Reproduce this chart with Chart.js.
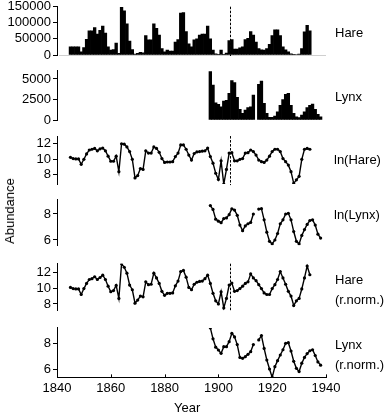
<!DOCTYPE html>
<html>
<head>
<meta charset="utf-8">
<script src="https://cdn.jsdelivr.net/npm/chart.js@4.4.0/dist/chart.umd.min.js"></script>
<style>
    body { margin: 0; width: 386px; height: 416px; background: #fff; position: relative; overflow: hidden;
           font-family: "Liberation Sans", Arial, sans-serif; color: #000; }
    canvas { position: absolute; left: 0; }
    .lbl { position: absolute; font-size: 13px; line-height: 16px; white-space: nowrap; }
</style>
</head>
<body>
<canvas id="p1"></canvas>
<canvas id="p2"></canvas>
<canvas id="p3"></canvas>
<canvas id="p4"></canvas>
<canvas id="p5"></canvas>
<canvas id="p6"></canvas>

<div class="lbl" style="left:335px; top:25px;">Hare</div>
<div class="lbl" style="left:335px; top:89px;">Lynx</div>
<div class="lbl" style="left:334px; top:152px;">ln(Hare)</div>
<div class="lbl" style="left:334px; top:207px;">ln(Lynx)</div>
<div class="lbl" style="left:335px; top:272px;">Hare</div>
<div class="lbl" style="left:335px; top:292px;">(r.norm.)</div>
<div class="lbl" style="left:335px; top:337px;">Lynx</div>
<div class="lbl" style="left:335px; top:357px;">(r.norm.)</div>
<div class="lbl" style="left:174px; top:400px;">Year</div>
<div class="lbl" style="left:10px; top:211px; transform: translate(-50%, -50%) rotate(-90deg);">Abundance</div>

<script>
// --- data ---
const hareFirstYear = 1845;
const hare = [
    25000, 25000, 25000, 25000, 10000, 23000, 49000, 75000, 75000, 85000,
    65000, 77000, 90000, 68000, 25000, 15000, 17000, 37000, 5000, 148000,
    137000, 97000, 43000, 17000, 3000, 5000, 8000, 7000, 60000, 47000,
    47000, 97000, 83000, 62000, 20000, 10000, 15000, 12000, 12000, 40000,
    48000, 130000, 132000, 73000, 35000, 25000, 47000, 50000, 62000, 65000,
    65000, 90000, 50000, 15000, 4000, 2000, 15000, 1000, 6000, 45000,
    48000, 18000, 18000, 22000, 25000, 48000, 52000, 73000, 62000, 40000,
    20000, 16000, 15000, 20000, 33000, 60000, 78000, 78000, 60000, 25000,
    16000, 10000, 4000, 1000, 1500, 2500, 20000, 72000, 92000, 75000
];
const lnHare = [
    10.25, 10.1, 10.05, 10.05, 9.35, 10.0, 10.7, 11.2, 11.3, 11.4,
    11.1, 11.35, 11.45, 11.1, 10.4, 9.75, 9.75, 10.4, 8.4, 12.0,
    11.95, 11.6, 11.0, 10.0, 7.6, 7.9, 8.8, 8.7, 11.1, 10.8,
    10.8, 11.6, 11.4, 10.9, 10.1, 9.6, 9.65, 9.65, 9.7, 10.35,
    10.8, 11.85, 11.85, 11.3, 10.55, 9.9, 10.75, 10.95, 11.0, 11.05,
    11.1, 11.45, 10.35, 9.5, 8.2, 7.4, 9.8, 6.8, 8.7, 10.8,
    10.85, 9.8, 9.8, 10.0, 10.1, 10.8, 10.85, 11.2, 11.0, 10.55,
    9.9, 9.7, 9.6, 9.9, 10.4, 11.0, 11.3, 11.3, 11.0, 10.1,
    9.7, 9.25, 8.4, 6.9, 7.35, 7.8, 10.0, 11.3, 11.4, 11.3
];
const hareNorm = [
    10.1, 9.95, 9.9, 9.9, 9.2, 9.95, 10.6, 11.1, 11.2, 11.45,
    11.1, 11.35, 11.65, 11.1, 10.25, 9.55, 9.7, 10.35, 8.7, 13.1,
    12.65, 11.9, 10.4, 9.8, 8.1, 8.5, 9.0, 8.9, 10.8, 10.45,
    10.5, 11.9, 11.3, 10.6, 9.6, 9.1, 9.35, 9.35, 9.4, 10.3,
    10.9, 12.1, 12.25, 11.4, 10.1, 9.8, 10.5, 10.75, 10.85, 10.9,
    11.2, 11.65, 10.6, 9.35, 8.4, 8.0, 9.55, 7.5, 8.7, 10.4,
    10.65, 9.6, 9.7, 9.95, 10.25, 10.6, 10.8, 11.8, 11.3, 10.95,
    10.45, 9.95, 9.4, 9.2, 9.2, 9.95, 10.45, 11.1, 12.1, 11.3,
    10.5, 9.6, 9.0, 7.8, 8.4, 8.7, 9.9, 11.3, 12.8, 11.7
];

const lynxFirstYear = 1897;   // 1914 is missing
const lynx = [
    5900, 4270, 2100, 1900, 1600, 2300, 2400, 3250, 4800, 4550,
    2750, 1300, 800, 1200, 1500, 1600, 3050, null, 4350, 4750,
    2030, 810, 330, 330, 490, 1000, 1800, 2500, 3130, 3250,
    1800, 800, 400, 300, 600, 1000, 1500, 1800, 1950, 1300,
    700, 400
];
const lnLynx = [
    8.65, 8.35, 7.6, 7.45, 7.33, 7.65, 7.7, 7.95, 8.4, 8.3,
    7.9, 7.15, 6.72, 7.08, 7.25, 7.35, 8.0, null, 8.38, 8.41,
    7.55, 6.6, 5.9, 5.7, 6.0, 6.5, 7.25, 7.55, 8.0, 8.05,
    7.55, 6.65, 5.9, 5.7, 6.35, 6.8, 7.2, 7.5, 7.55, 7.15,
    6.45, 6.15
];
const lynxNorm = [
    9.2, 8.35, 7.7, 7.48, 7.22, 7.74, 7.74, 8.13, 8.78, 8.5,
    7.9, 6.9, 6.83, 6.96, 7.14, 7.35, 7.9, null, 8.26, 8.6,
    7.6, 6.7, 6.0, 5.35, 6.18, 6.65, 7.09, 7.5, 8.0, 8.05,
    7.4, 6.6, 6.05, 5.8, 6.45, 6.9, 7.2, 7.42, 7.5, 7.05,
    6.55, 6.3
];

const splitYear = 1904.4;     // dashed marker
const yearTicks = [1840, 1860, 1880, 1900, 1920, 1940];
const hareTicks = [0, 50000, 100000, 150000];
const lynxTicks = [0, 2500, 5000];
const lnHareTicks = [8, 10, 12];
const lnLynxTicks = [6, 8];

// --- layout ---
const FONT = "'Liberation Sans', Arial, sans-serif";
const LEFT = 57;
const RIGHT_PAD = 60;
const PAD = 10;
const X_AXIS_H = 30;

Chart.defaults.font.family = FONT;
Chart.defaults.font.size = 13;
Chart.defaults.color = '#000';

function pts(first, values) {
    return values.map((v, i) => ({ x: first + i, y: v }));
}

const decor = {
    id: 'decor',
    beforeDatasetsDraw(chart, args, opts) {
        if (!opts.baseline) return;
        const { ctx, chartArea: a, scales: { y } } = chart;
        const y0 = Math.round(y.getPixelForValue(0)) + 0.5;
        ctx.save();
        ctx.strokeStyle = '#cfcfcf';
        ctx.lineWidth = 1;
        ctx.beginPath();
        ctx.moveTo(a.left + 2, y0);
        ctx.lineTo(a.right, y0);
        ctx.stroke();
        ctx.restore();
    },
    afterDatasetsDraw(chart, args, opts) {
        const { ctx, chartArea: a, scales: { x } } = chart;
        ctx.save();
        ctx.strokeStyle = '#000';
        ctx.lineWidth = 1;
        if (opts.split) {
            const xs = Math.round(x.getPixelForValue(splitYear)) + 0.5;
            ctx.setLineDash([2.5, 1.5]);
            ctx.beginPath();
            ctx.moveTo(xs, a.top);
            ctx.lineTo(xs, a.bottom + 1);
            ctx.stroke();
            ctx.setLineDash([]);
        }
        if (opts.innerTicks) {
            yearTicks.forEach(t => {
                const xt = Math.round(x.getPixelForValue(t)) + 0.5;
                ctx.beginPath();
                ctx.moveTo(xt, a.bottom);
                ctx.lineTo(xt, a.bottom - 3);
                ctx.stroke();
            });
        }
        ctx.restore();
    }
};

function yScale(min, max, ticks) {
    return {
        min: min,
        max: max,
        afterFit: s => { s.width = LEFT; },
        afterBuildTicks: s => { s.ticks = ticks.map(v => ({ value: v })); },
        border: { display: true, color: '#000', width: 1 },
        grid: { drawOnChartArea: false, drawTicks: true, tickLength: 4, color: '#000' },
        ticks: { padding: 2, autoSkip: false, callback: v => String(v) }
    };
}

function xScale(show) {
    const s = { type: 'linear', min: 1840, max: 1940, offset: false, display: show, grid: { offset: false } };
    if (show) {
        s.afterFit = sc => { sc.height = X_AXIS_H; };
        s.afterBuildTicks = sc => { sc.ticks = yearTicks.map(v => ({ value: v })); };
        s.border = { display: true, color: '#000', width: 1 };
        s.grid = { offset: false, drawOnChartArea: false, drawTicks: false };
        s.ticks = { padding: 3, autoSkip: false, maxRotation: 0, callback: v => String(v) };
    }
    return s;
}

function panel(id, top, bottom, kind, data, yMin, yMax, yTicks, extra) {
    const cv = document.getElementById(id);
    const showX = !!extra.xAxis;
    const cTop = Math.floor(top) - PAD;
    const cBottom = Math.ceil(bottom) + (showX ? X_AXIS_H : PAD);
    cv.width = 386;
    cv.height = cBottom - cTop;
    cv.style.top = cTop + 'px';

    const ds = kind === 'bar'
        ? { type: 'bar', data: data, backgroundColor: '#000', borderWidth: 0,
            barPercentage: 1, categoryPercentage: 1 }
        : { type: 'line', data: data, borderColor: '#000', borderWidth: 1.4,
            pointRadius: 1.6, pointBackgroundColor: '#000', pointBorderWidth: 0,
            tension: 0, spanGaps: false };

    new Chart(cv.getContext('2d'), {
        type: kind,
        data: { datasets: [ds] },
        options: {
            responsive: false,
            animation: false,
            events: [],
            layout: { padding: {
                top: top - cTop,
                bottom: showX ? cBottom - bottom - X_AXIS_H : cBottom - bottom,
                left: 0,
                right: RIGHT_PAD
            } },
            scales: { x: xScale(showX), y: yScale(yMin, yMax, yTicks) },
            plugins: {
                legend: { display: false },
                tooltip: { enabled: false },
                decor: extra
            }
        },
        plugins: [decor]
    });
}

panel('p1', 6.7, 55, 'bar', pts(hareFirstYear, hare), 0, 150000, hareTicks, { baseline: true, split: true });
panel('p2', 70.8, 120, 'bar', pts(lynxFirstYear, lynx), 0, 6000, lynxTicks, {});
panel('p3', 136.05, 184.1, 'line', pts(hareFirstYear, lnHare), 6.8, 13, lnHareTicks, { split: true });
panel('p4', 199.7, 245.2, 'line', pts(lynxFirstYear, lnLynx), 5.6, 9.1, lnLynxTicks, {});
panel('p5', 263.7, 310.3, 'line', pts(hareFirstYear, hareNorm), 7.2, 13.1, lnHareTicks, { split: true });
panel('p6', 327.9, 377.35, 'line', pts(lynxFirstYear, lynxNorm), 5.35, 9.2, lnLynxTicks, { xAxis: true, innerTicks: true });
</script>
</body>
</html>
